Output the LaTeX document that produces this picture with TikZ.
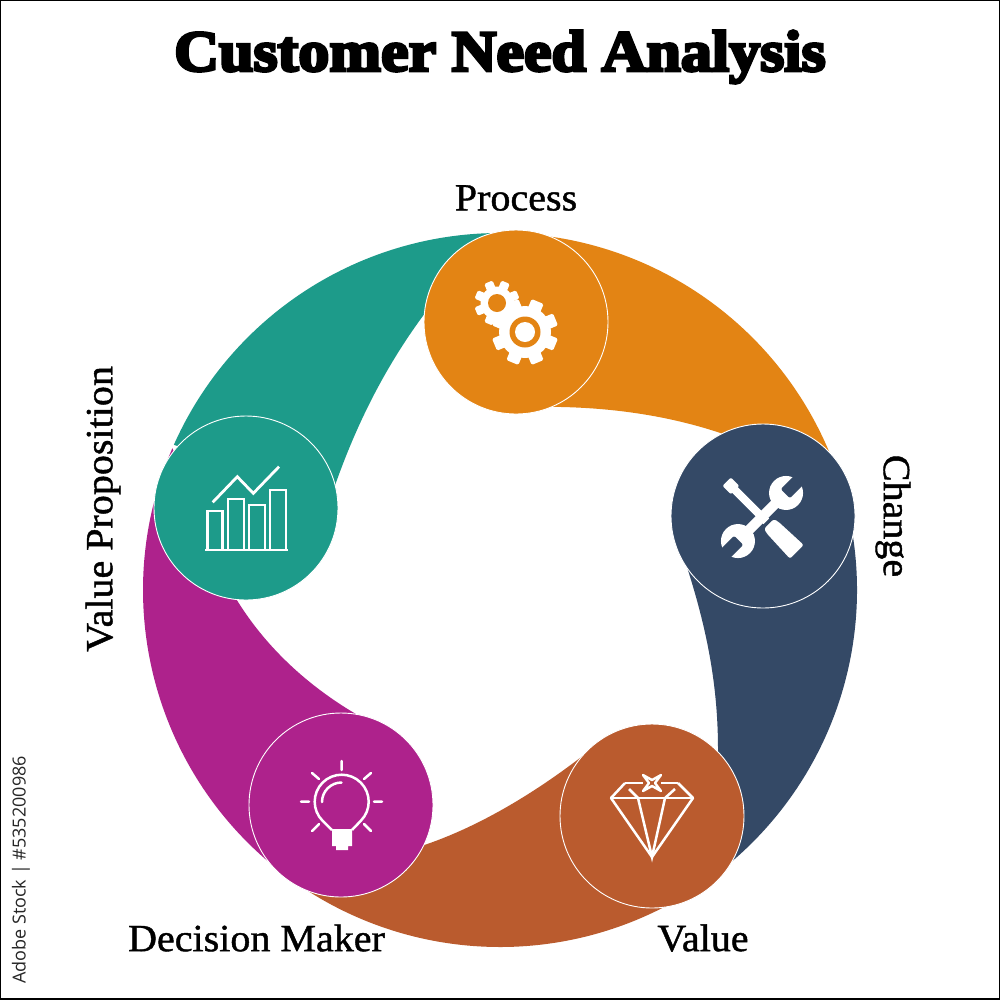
\documentclass[tikz,border=0pt]{standalone}
\usepackage{fontspec}
\usetikzlibrary{calc}
\setmainfont{Liberation Serif}
\newfontfamily\titlefont[FakeBold=5,FakeStretch=1.07]{Liberation Serif Bold}
\newfontfamily\labelfont[FakeBold=1.1,FakeStretch=1.04]{Liberation Serif}
\newfontfamily\stockfont{Open Sans}
\definecolor{orangec}{HTML}{E38414}
\definecolor{navyc}{HTML}{344966}
\definecolor{brownc}{HTML}{BA5B2E}
\definecolor{purplec}{HTML}{AE228C}
\definecolor{tealc}{HTML}{1D9B8A}
\tikzset{
  disc/.style={circle,minimum size=184pt,inner sep=0pt,draw=white,line width=0.9pt},
  lab/.style={font=\labelfont\fontsize{38.5}{40}\selectfont,inner sep=0pt,text=black},
  ico/.style={draw=white,line width=2.5pt,line cap=butt,line join=miter,fill=none},
  icof/.style={fill=white,draw=none}
}
\begin{document}
\begin{tikzpicture}[x=1pt,y=-1pt]
\useasboundingbox (0,0) rectangle (1000,999);
\fill[white] (0,0) rectangle (1000,999);
\draw[black,line width=2pt] (0,0) rectangle (1000,999);
\coordinate (ring) at (500,590);
% bands
\fill[orangec] ($(ring)+(85:357pt)$) arc[start angle=85,end angle=22,radius=357pt] -- (745,442) .. controls (690,420) and (620,405) .. (530,407) -- cycle;
\fill[navyc] ($(ring)+(12:357pt)$) arc[start angle=12,end angle=-51,radius=357pt] -- (718,760) -- (718,750) .. controls (718,680) and (705,620) .. (682,552) -- cycle;
\fill[brownc] ($(ring)+(-62:357pt)$) arc[start angle=-62,end angle=-123,radius=357pt] -- (415,848) .. controls (490,825) and (560,775) .. (600,742) -- cycle;
\fill[purplec] ($(ring)+(230:357pt)$) arc[start angle=230,end angle=156.6,radius=357pt] -- (240,595) -- (235,597) .. controls (270,655) and (320,695) .. (370,722) -- cycle;
\fill[tealc] ($(ring)+(156:357pt)$) arc[start angle=156,end angle=90,radius=357pt] -- (435,300) .. controls (380,370) and (350,440) .. (330,500) -- cycle;
% discs
\node[disc,fill=orangec] (process) at (516,322) {};
\node[disc,fill=navyc] (change) at (763,516) {};
\node[disc,fill=brownc] (value) at (652,816) {};
\node[disc,fill=purplec] (decision) at (341,805) {};
\node[disc,fill=tealc] (proposition) at (246,508) {};
% gears
\begin{scope}[shift={(497,303)}]
  \fill[white] (0,0) circle (16.5pt);
  \foreach \a in {0,45,...,315}{\fill[white,rotate=\a+22.5,rounded corners=1.5pt] (-4.5,-22.5) rectangle (4.5,-10);}
  \fill[orangec] (0,0) circle (9pt);
\end{scope}
\begin{scope}[shift={(525,332)}]
  \fill[white] (0,0) circle (26pt);
  \foreach \a in {0,45,...,315}{\fill[white,rotate=\a+22.5,rounded corners=1.5pt] (-6.5,-33) rectangle (6.5,-15);}
  \fill[orangec] (0,0) circle (15.5pt);
  \fill[white] (0,0) circle (10pt);
\end{scope}
% tools
\begin{scope}[shift={(762,517)},rotate=45]
  \fill[white] (-34,-5) rectangle (34,5);
  \fill[white] (34,0) circle (17pt);
  \fill[white] (-34,0) circle (17pt);
  \fill[navyc,rounded corners=2pt] (33,-6.5) rectangle (60,6.5);
  \fill[navyc,rounded corners=2pt] (-33,-6.5) rectangle (-60,6.5);
\end{scope}
\begin{scope}[shift={(762,517)},rotate=-45]
  \fill[white,rounded corners=2pt] (-50,-6) rectangle (-38,6);
  \fill[white] (-40,-4) rectangle (6,4);
  \filldraw[white,draw=navyc,line width=1.2pt,rounded corners=3pt] (9,-7.5) -- (15,-9) -- (50,-10.5) -- (50,10.5) -- (15,9) -- (9,7.5) -- cycle;
\end{scope}
% diamond
\draw[ico,line join=round] (625,783) -- (611,798) -- (652,857) -- (693,798) -- (678,783);
\draw[ico] (625,783) -- (643,783) (661,783) -- (678,783);
\draw[ico] (611,798) -- (693,798);
\draw[ico] (629,789) -- (638,798) -- (652,857) -- (665,798) -- (675,789);
\draw[ico,line width=2.4pt,line join=round] (643,775) -- (649,783) -- (643,791) -- (652,786) -- (661,791) -- (655,783) -- (661,775) -- (652,780) -- cycle;
% bulb
\draw[ico] (332,830) -- (322.6,820.8) arc[start angle=225,end angle=-45,radius=27pt] -- (352,830);
\draw[ico,line cap=round] (322,802) arc[start angle=180,end angle=90,radius=19.5pt];
\fill[white] (332,829) -- (352,829) -- (352,846) -- (348,846) -- (348,850) -- (336,850) -- (336,846) -- (332,846) -- cycle;
\draw[ico,line cap=round] (341.7,761) -- (341.7,770) (374,801.7) -- (382,801.7) (301,801.7) -- (309,801.7)
  (312,773) -- (319,779) (371,773) -- (364,779) (312,831) -- (319,824) (371,831) -- (364,824);
% chart
\draw[ico] (205,550) -- (288,550);
\draw[ico] (207.3,550) -- (207.3,511) -- (222.7,511) -- (222.7,550);
\draw[ico] (228,550) -- (228,499) -- (244,499) -- (244,550);
\draw[ico] (249,550) -- (249,505) -- (265,505) -- (265,550);
\draw[ico] (270,550) -- (270,490) -- (286,490) -- (286,550);
\draw[ico,line width=2.8pt] (212.7,502.3) -- (237.3,476.7) -- (253.3,493.3) -- (279,466.7);
% labels
\node[font=\titlefont\fontsize{58}{60}\selectfont,inner sep=0pt,text=black] (title) at (500,57) {Customer Need Analysis};
\node[lab] (lprocess) at (516,198) {Process};
\node[lab,rotate=-90] (lchange) at (893,516) {Change};
\node[lab] (lvalue) at (703,938) {Value};
\node[lab] (ldecision) at (256.5,938) {Decision Maker};
\node[lab,rotate=90] (lprop) at (103,509) {Value Proposition};
\node[font=\stockfont\fontsize{18}{20}\selectfont,rotate=90,inner sep=0pt,text=black!85] (stock) at (21,870) {Adobe Stock | \#535200986};
\end{tikzpicture}
\end{document}
